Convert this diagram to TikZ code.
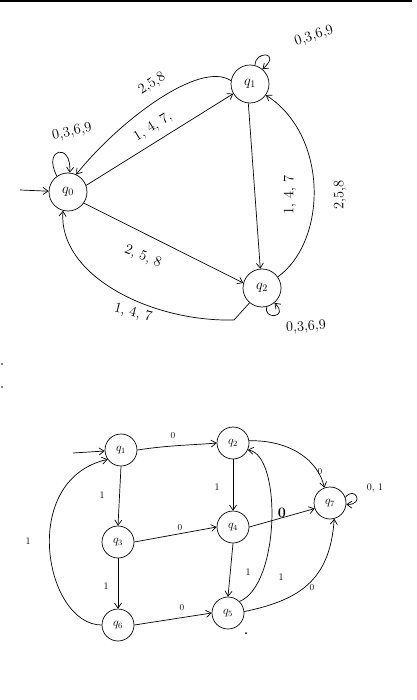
\documentclass[tikz,border=0pt]{standalone}
\usetikzlibrary{arrows.meta}
\begin{document}
\begin{tikzpicture}[x=1pt,y=-1pt,
  every path/.style={line width=0.7pt},
  bigstate/.style={circle,draw,minimum size=38pt,inner sep=0pt,font=\Large},
  smallstate/.style={circle,draw,minimum size=32pt,inner sep=0pt,font=\large},
  arr/.style={draw,-{Straight Barb[length=5pt,width=7pt]}},
  lbl/.style={font=\Large,inner sep=0.5pt},
  slbl/.style={font=\normalsize,inner sep=1pt},
  zlbl/.style={font=\small,inner sep=1pt}]
\useasboundingbox (0,0) rectangle (416,700);
\draw[line width=1.5pt] (0,1) -- (412,1);
\fill (2,364) circle (0.9pt);
\fill (2,387) circle (0.9pt);
% ---------- top automaton ----------
\node[bigstate] (a0) at (68,192) {$q_0$};
\node[bigstate] (a1) at (250,84) {$q_1$};
\node[bigstate] (a2) at (262,288) {$q_2$};
\coordinate (ai) at (20,190);
\draw[arr] (ai) -- (a0);
% q0 loop
\draw[arr] (a0.125) .. controls (42,148) and (72,142) .. (a0.85);
\node[lbl,rotate=12] (l0) at (72,132) {0,3,6,9};
% q1 -> q0 upper
\draw[arr] (a1.170) .. controls (200,60) and (120,120) .. (a0.65);
\node[lbl,rotate=32] (l1) at (152,84) {2,5,8};
% q0 -> q1 straight
\draw[arr] (a0.20) -- (a1.210);
\node[lbl,rotate=32] (l2) at (153,127) {1, 4, 7,};
% q1 loop
\draw[arr] (a1.75) .. controls (255,50) and (282,52) .. (a1.50);
\node[lbl,rotate=18] (l3) at (314,36) {0,3,6,9};
% q1 -> q2
\draw[arr] (a1.265) -- (a2.95);
\node[lbl,rotate=90] (l4) at (290,195) {1, 4, 7};
% q2 -> q1 right
\draw[arr] (a2.35) .. controls (328,240) and (328,135) .. (a1.-35);
\node[lbl,rotate=90] (l5) at (340,195) {2,5,8};
% q0 -> q2
\draw[arr] (a0.-35) -- (a2.165);
\node[lbl,rotate=-22] (l6) at (143,257) {2, 5, 8};
% q2 -> q0 lower
\draw[arr] (a2.230) -- (234,320) .. controls (150,322) and (58,275) .. (a0.255);
\node[lbl,rotate=-14] (l7) at (133,313) {1, 4, 7};
% q2 loop
\draw[arr] (a2.-75) .. controls (262,320) and (290,318) .. (a2.-50);
\node[lbl,rotate=4] (l8) at (306,327) {0,3,6,9};
% ---------- bottom automaton ----------
\node[smallstate] (b1) at (121,450) {$q_1$};
\node[smallstate] (b2) at (233,443) {$q_2$};
\node[smallstate] (b3) at (118,542) {$q_3$};
\node[smallstate] (b4) at (233,527) {$q_4$};
\node[smallstate] (b5) at (228,613) {$q_5$};
\node[smallstate] (b6) at (118,625) {$q_6$};
\node[smallstate] (b7) at (330,503) {$q_7$};
\coordinate (bi) at (73,453);
\draw[arr] (bi) -- (b1);
\draw[arr] (b1.east) .. controls (170,445) and (195,445) .. (b2.west);
\node[zlbl] (m1) at (173,436) {0};
\draw[arr] (b1.south) -- (b3.north);
\node[slbl] (m2) at (102,495) {1};
\draw[arr] (b3.south) -- (b6.north);
\node[slbl] (m3) at (106,586) {1};
\draw[arr] (b3.east) -- (b4.west);
\node[zlbl] (m4) at (180,528) {0};
\draw[arr] (b6.east) -- (b5.west);
\node[zlbl] (m5) at (182,608) {0};
\draw[arr] (b6.west) .. controls (45,625) and (18,480) .. (b1.215);
\node[slbl] (m6) at (28,541) {1};
\draw[arr] (b2.south) -- (b4.north);
\node[slbl] (m7) at (217,487) {1};
\draw[arr] (b4.south) -- (b5.north);
\node[slbl] (m8) at (248,572) {1};
\draw[arr] (b5.45) .. controls (280,585) and (282,455) .. (b2.-25);
\node[slbl] (m9) at (281,577) {1};
\draw[arr] (b2.8) .. controls (290,440) and (318,460) .. (b7.110);
\node[zlbl] (m10) at (320,472) {0};
\draw[arr] (b4.east) -- (b7.200);
\node[font=\Large\bfseries,inner sep=1pt] (m11) at (282,513) {0};
\draw[arr] (b5.5) .. controls (300,600) and (330,580) .. (b7.-75);
\node[zlbl] (m12) at (312,588) {0};
\draw[arr] (b7.20) .. controls (355,485) and (365,505) .. (b7.-5);
\node[slbl] (m13) at (375,488) {0, 1};
\fill (246,633) circle (1pt);
\end{tikzpicture}
\end{document}
